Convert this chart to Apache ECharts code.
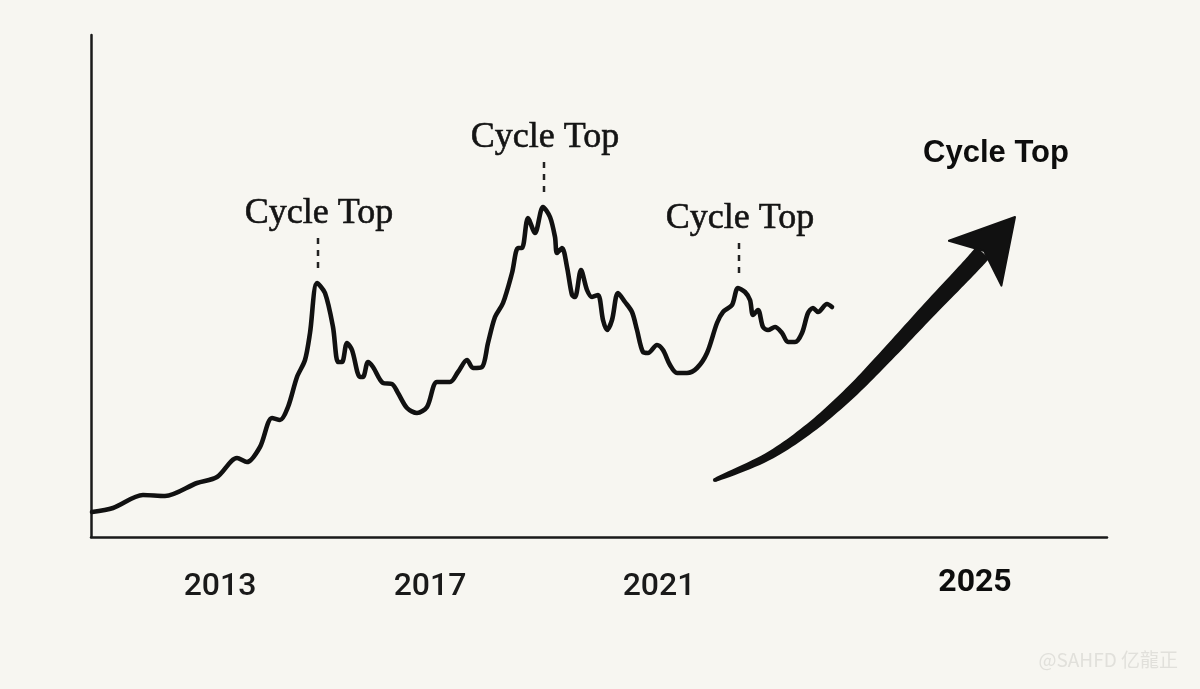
<!DOCTYPE html>
<html><head><meta charset="utf-8">
<script src="https://cdn.jsdelivr.net/npm/echarts@6/dist/echarts.min.js"></script>
<style>html,body{margin:0;padding:0;background:#f7f6f1;} #c{width:1200px;height:689px;}</style>
</head><body><div id="c"></div>
<script>
// price-cycle sketch: x = time index, y = price index
const priceX = [1,22,52,74,106,126,146,156,169,181,189,197,206,214,219,226,234,242,247,251,256,261,269,272,277,282,292,301,307,316,326,336,346,359,367,376,382,391,397,404,412,421,427,431,437,444,452,459,464,466,471,476,481,484,490,496,501,507,512,516,521,527,534,541,546,552,557,566,572,579,586,596,606,616,626,632,641,647,654,659,662,667,672,677,684,691,697,704,711,717,722,727,736,741];
const priceY = [25,29,42,41,54,60,79,75,90,119,117,130,160,177,204,254,244,210,175,175,194,187,160,160,175,170,154,153,144,129,124,130,155,155,165,177,169,170,194,220,234,264,289,289,319,304,330,320,300,284,289,270,242,240,267,247,240,242,217,207,217,244,235,225,207,185,184,192,187,172,164,164,169,184,214,225,232,249,245,237,222,227,210,207,210,204,195,195,204,224,229,225,233,230];
const tickValues = [129, 339, 568, 884];
const tickLabels = ['2013', '2017', '2021', '2025'];
const cycleTopX = [226, 452, 647];
const cycleTopLabel = 'Cycle Top';
const arrowX = [624, 676, 719, 759, 796, 836, 876, 924];
const arrowY = [57, 80, 109, 144, 182, 225, 267, 320];
const arrowLabel = 'Cycle Top';
const watermark = '@SAHFD 亿龍正';

const chart = echarts.init(document.getElementById('c'));

function catmull(pts, steps) {
  const out = [];
  for (let i = 0; i < pts.length - 1; i++) {
    const p0 = pts[Math.max(0, i - 1)], p1 = pts[i], p2 = pts[i + 1], p3 = pts[Math.min(pts.length - 1, i + 2)];
    for (let s = 0; s < steps; s++) {
      const t = s / steps, t2 = t * t, t3 = t2 * t;
      const f = k => 0.5 * ((2 * p1[k]) + (-p0[k] + p2[k]) * t + (2 * p0[k] - 5 * p1[k] + 4 * p2[k] - p3[k]) * t2 + (-p0[k] + 3 * p1[k] - 3 * p2[k] + p3[k]) * t3);
      out.push([f(0), f(1)]);
    }
  }
  out.push(pts[pts.length - 1]);
  return out;
}

function renderArrow(params, api) {
  const pts = arrowX.map((x, i) => api.coord([x, arrowY[i]]));
  const n = pts.length;
  const tip = pts[n - 1], prev = pts[n - 2];
  let dx = tip[0] - prev[0], dy = tip[1] - prev[1];
  const len = Math.hypot(dx, dy); dx /= len; dy /= len;
  const nx = -dy, ny = dx;
  const base = [tip[0] - 48 * dx, tip[1] - 48 * dy];
  const shaft = catmull(pts.slice(0, n - 1).concat([base]), 12);
  let total = 0; const cum = [0];
  for (let i = 1; i < shaft.length; i++) { total += Math.hypot(shaft[i][0] - shaft[i - 1][0], shaft[i][1] - shaft[i - 1][1]); cum.push(total); }
  const left = [], right = [];
  for (let i = 0; i < shaft.length; i++) {
    const a = shaft[Math.max(0, i - 1)], b = shaft[Math.min(shaft.length - 1, i + 1)];
    let tx = b[0] - a[0], ty = b[1] - a[1]; const tl = Math.hypot(tx, ty) || 1; tx /= tl; ty /= tl;
    const w = 2 + 6.8 * Math.pow(cum[i] / total, 0.65);
    left.push([shaft[i][0] + ty * w, shaft[i][1] - tx * w]);
    right.push([shaft[i][0] - ty * w, shaft[i][1] + tx * w]);
  }
  const poly = left.concat(right.reverse());
  const head = [
    tip,
    [tip[0] - 62 * dx - 33 * nx, tip[1] - 62 * dy - 33 * ny],
    [tip[0] - 46 * dx, tip[1] - 46 * dy],
    [tip[0] - 60 * dx + 36 * nx, tip[1] - 60 * dy + 36 * ny]
  ];
  return {
    type: 'group',
    children: [
      { type: 'polygon', shape: { points: poly }, style: { fill: '#111' } },
      { type: 'circle', shape: { cx: shaft[0][0], cy: shaft[0][1], r: 2.1 }, style: { fill: '#111' } },
      { type: 'polygon', shape: { points: head }, style: { fill: '#111', stroke: '#111', lineWidth: 2, lineJoin: 'round' } },
      { type: 'text', style: { text: arrowLabel, x: tip[0] - 19, y: tip[1] - 64, font: 'bold 31px "Liberation Sans", Arial, sans-serif', fill: '#0d0d0d', align: 'center', verticalAlign: 'middle', textAlign: 'center', textVerticalAlign: 'middle' } }
    ]
  };
}

function renderTop(params, api) {
  const p = api.coord([api.value(0), api.value(1)]);
  return {
    type: 'group',
    children: [
      { type: 'line', shape: { x1: p[0] + 1, y1: p[1] - 15, x2: p[0] + 1, y2: p[1] - 45 }, style: { stroke: '#222', lineWidth: 2.5, lineDash: [6, 6] } },
      { type: 'text', style: { text: cycleTopLabel, x: p[0] + 2, y: p[1] - 69, font: '36px "Liberation Serif", "Times New Roman", serif', fill: '#141414', stroke: '#141414', lineWidth: 0.6, align: 'center', verticalAlign: 'middle', textAlign: 'center', textVerticalAlign: 'middle' } }
    ]
  };
}

chart.setOption({
  backgroundColor: '#f7f6f1',
  animation: false,
  grid: { left: 91, right: 93, top: 35, bottom: 152, containLabel: false, outerBoundsMode: 'none' },
  xAxis: {
    type: 'value', min: 0, max: 1016,
    axisLine: { show: true, lineStyle: { color: '#1a1a1a', width: 2.5 } },
    axisTick: { show: false },
    splitLine: { show: false },
    axisLabel: {
      customValues: tickValues,
      margin: 30,
      formatter: v => {
        const i = tickValues.indexOf(v);
        if (i < 0) return '';
        return i === tickLabels.length - 1 ? '{b|' + tickLabels[i] + '}' : '{n|' + tickLabels[i] + '}';
      },
      rich: {
        n: { fontFamily: 'Roboto', fontSize: 32, fontWeight: 500, color: '#1a1a1a', lineHeight: 40 },
        b: { fontFamily: 'Roboto', fontSize: 32, fontWeight: 'bold', color: '#0d0d0d', lineHeight: 32 }
      }
    }
  },
  yAxis: {
    type: 'value', min: 0, max: 502,
    axisLine: { show: true, lineStyle: { color: '#1a1a1a', width: 2.5 } },
    axisTick: { show: false },
    axisLabel: { show: false },
    splitLine: { show: false }
  },
  graphic: [
    { type: 'text', right: 22, top: 650, style: { text: watermark, font: '19px "Noto Sans CJK SC", sans-serif', fill: '#e1e0db' } }
  ],
  series: [
    {
      type: 'line',
      data: priceX.map((x, i) => [x, priceY[i]]),
      showSymbol: false,
      smooth: 0.3,
      lineStyle: { color: '#111', width: 4.6, cap: 'round', join: 'round' },
      z: 3
    },
    {
      type: 'custom',
      data: cycleTopX.map(x => [x, priceY[priceX.indexOf(x)]]),
      renderItem: renderTop,
      z: 4
    },
    {
      type: 'custom',
      data: [[arrowX[arrowX.length - 1], arrowY[arrowY.length - 1]]],
      renderItem: renderArrow,
      z: 4
    }
  ]
});
</script>
</body></html>
